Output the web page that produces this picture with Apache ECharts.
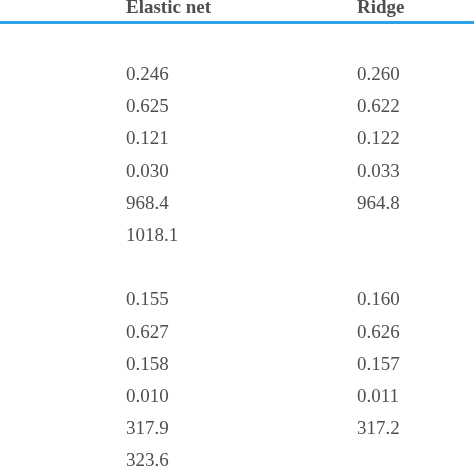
<!DOCTYPE html><html><head><meta charset="utf-8"><script src="https://cdn.jsdelivr.net/npm/echarts@6/dist/echarts.min.js"></script>
<style>html,body{margin:0;padding:0;background:#fff}#c{width:474px;height:474px}</style></head><body><div id="c"></div>
<script>
const headers = ["Elastic net", "Ridge"];
const rowIndex = [0,1,2,3,4,5,7,8,9,10,11,12];
const elasticNet = ["0.246","0.625","0.121","0.030","968.4","1018.1","0.155","0.627","0.158","0.010","317.9","323.6"];
const ridge = ["0.260","0.622","0.122","0.033","964.8","","0.160","0.626","0.157","0.011","317.2",""];
const colX = [126, 357];
const headerRow = -2.08;
const ruleRow = -1.646;

const cells = [];
rowIndex.forEach((r,k)=>{
  cells.push({value:[colX[0], r], t: elasticNet[k]});
  if (ridge[k]) cells.push({value:[colX[1], r], t: ridge[k]});
});
const heads = headers.map((h,i)=>({value:[colX[i], headerRow], t:h}));
const font = "'Liberation Serif','DejaVu Serif',serif";
const chart = echarts.init(document.getElementById('c'));
chart.setOption({
  animation:false,
  grid:{left:0,right:0,top:0,bottom:0},
  xAxis:{type:'value',min:0,max:474,show:false},
  yAxis:{type:'value',inverse:true,min:-75/32.2,max:(474-75)/32.2,show:false},
  series:[
    {type:'scatter',symbolSize:0,data:cells,
     label:{show:true,position:'right',distance:0,formatter:p=>p.data.t,color:'#222',fontSize:19,fontFamily:font},
     markLine:{symbol:'none',silent:true,label:{show:false},lineStyle:{color:'#2ba3e6',width:3,type:'solid'},data:[{yAxis:ruleRow}]}},
    {type:'scatter',symbolSize:0,data:heads,
     label:{show:true,position:'right',distance:0,formatter:p=>p.data.t,color:'#222',fontSize:19,fontWeight:'bold',fontFamily:font}}
  ]
});
</script></body></html>
